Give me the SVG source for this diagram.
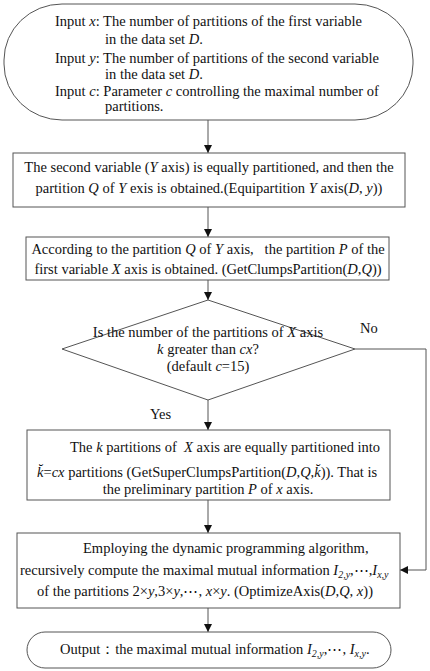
<svg xmlns="http://www.w3.org/2000/svg" width="430" height="671" viewBox="0 0 430 671">
<defs>
<style>
.s{fill:#fff;stroke:#555;stroke-width:1}
.t{font-family:"Liberation Serif","Times New Roman",serif;font-size:14.5px;fill:#111}
.i{font-style:italic}
.sub{font-size:10px;font-style:italic}
.c{fill:none;stroke:#555;stroke-width:1}
</style>
<marker id="ah" viewBox="0 0 10 10" refX="10" refY="5" markerWidth="8" markerHeight="8" markerUnits="userSpaceOnUse" orient="auto">
<path d="M0,0 L10,5 L0,10 z" fill="#111"/>
</marker>
</defs>
<rect width="430" height="671" fill="#fff"/>
<g id="connectors">
<line class="c" x1="208" y1="120" x2="208" y2="153" marker-end="url(#ah)"/>
<line class="c" x1="208" y1="207" x2="208" y2="237" marker-end="url(#ah)"/>
<line class="c" x1="208" y1="280" x2="208" y2="300" marker-end="url(#ah)"/>
<line class="c" x1="208" y1="400" x2="208" y2="430" marker-end="url(#ah)"/>
<line class="c" x1="208" y1="500" x2="208" y2="533" marker-end="url(#ah)"/>
<line class="c" x1="208" y1="608" x2="208" y2="632" marker-end="url(#ah)"/>
<polyline class="c" points="355,349 426,349 426,570 400,570" marker-end="url(#ah)"/>
<text class="t" x="360" y="333">No</text>
<text class="t" x="150" y="419">Yes</text>
</g>
<g id="start">
<rect class="s" x="4" y="4" width="409" height="116" rx="58" ry="56"/>
<text class="t" x="55" y="26">Input <tspan class="i">x</tspan>: The number of partitions of the first variable</text>
<text class="t" x="105" y="44">in the data set <tspan class="i">D</tspan>.</text>
<text class="t" x="55" y="63">Input <tspan class="i">y</tspan>: The number of partitions of the second variable</text>
<text class="t" x="105" y="79">in the data set <tspan class="i">D</tspan>.</text>
<text class="t" x="55" y="96">Input <tspan class="i">c</tspan>: Parameter <tspan class="i">c</tspan> controlling the maximal number of</text>
<text class="t" x="105" y="111">partitions.</text>
</g>
<g id="equipartition">
<rect class="s" x="13" y="153" width="392" height="54"/>
<text class="t" x="209" y="172" text-anchor="middle">The second variable (<tspan class="i">Y</tspan>&#160;axis) is equally partitioned, and then the</text>
<text class="t" x="209" y="193" text-anchor="middle">partition <tspan class="i">Q</tspan> of <tspan class="i">Y</tspan>&#160;exis is obtained.(Equipartition <tspan class="i">Y</tspan> axis(<tspan class="i">D</tspan>, <tspan class="i">y</tspan>))</text>
</g>
<g id="clumps">
<rect class="s" x="26" y="237" width="363" height="43"/>
<text class="t" x="208" y="254" text-anchor="middle">According to the partition <tspan class="i">Q</tspan> of <tspan class="i">Y</tspan>&#160;axis,&#160;&#160;&#160;the partition <tspan class="i">P</tspan> of the</text>
<text class="t" x="208" y="274" text-anchor="middle">first variable <tspan class="i">X</tspan> axis is obtained. (GetClumpsPartition(<tspan class="i">D</tspan>,<tspan class="i">Q</tspan>))</text>
</g>
<g id="decision">
<polygon class="s" points="208,300 355,349 208,400 62,349"/>
<text class="t" x="208" y="337" text-anchor="middle">Is the number of the partitions of <tspan class="i">X</tspan>&#160;axis</text>
<text class="t" x="208" y="354" text-anchor="middle"><tspan class="i">k</tspan> greater than <tspan class="i">cx</tspan>?</text>
<text class="t" x="208" y="371" text-anchor="middle">(default <tspan class="i">c</tspan>=15)</text>
</g>
<g id="superclumps">
<rect class="s" x="27" y="430" width="363" height="70"/>
<text class="t" x="70" y="452">The <tspan class="i">k</tspan> partitions of&#160;&#160;<tspan class="i">X</tspan> axis are equally partitioned into</text>
<text class="t" x="37" y="477"><tspan class="i">k̆</tspan>=<tspan class="i">cx</tspan> partitions (GetSuperClumpsPartition(<tspan class="i">D</tspan>,<tspan class="i">Q</tspan>,<tspan class="i">k̆</tspan>)). That is</text>
<text class="t" x="208" y="494" text-anchor="middle">the preliminary partition <tspan class="i">P</tspan> of <tspan class="i">x</tspan> axis.</text>
</g>
<g id="optimize">
<rect class="s" x="17" y="533" width="383" height="75"/>
<text class="t" x="83" y="553">Employing the dynamic programming algorithm,</text>
<text class="t" x="20" y="575">recursively compute the maximal mutual information <tspan class="i">I</tspan><tspan class="sub" dy="3">2,y</tspan><tspan dy="-3">,⋯,</tspan><tspan class="i">I</tspan><tspan class="sub" dy="3">x,y</tspan></text>
<text class="t" x="37" y="596">of the partitions 2×<tspan class="i">y</tspan>,3×<tspan class="i">y</tspan>,⋯, <tspan class="i">x</tspan>×<tspan class="i">y</tspan>. (OptimizeAxis(<tspan class="i">D</tspan>,<tspan class="i">Q</tspan>, <tspan class="i">x</tspan>))</text>
</g>
<g id="output">
<rect class="s" x="27" y="632" width="364" height="36" rx="18" ry="18"/>
<text class="t" x="60" y="654">Output：the maximal mutual information <tspan class="i">I</tspan><tspan class="sub" dy="3">2,y</tspan><tspan dy="-3">,⋯, </tspan><tspan class="i">I</tspan><tspan class="sub" dy="3">x,y</tspan><tspan dy="-3">.</tspan></text>
</g>
</svg>
